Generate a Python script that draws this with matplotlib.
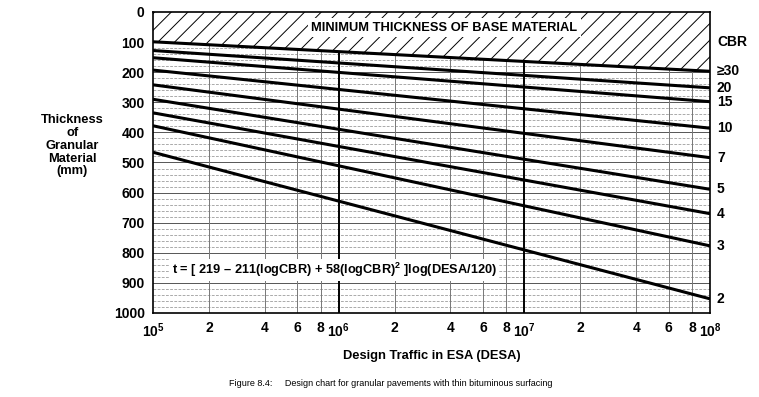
import numpy as np
import matplotlib
matplotlib.use('Agg')
import matplotlib.pyplot as plt

plt.rcParams['font.family'] = ['Liberation Sans', 'DejaVu Sans']
plt.rcParams['mathtext.fontset'] = 'custom'
plt.rcParams['mathtext.rm'] = 'Liberation Sans:bold'
plt.rcParams['mathtext.bf'] = 'Liberation Sans:bold'
plt.rcParams['mathtext.it'] = 'Liberation Sans:bold'
plt.rcParams['hatch.linewidth'] = 0.7

# Datos: espesor (mm) en DESA = 1e5 y 1e8
desa = [1e5, 1e8]
cbr_labels = ['≥30', '20', '15', '10', '7', '5', '4', '3', '2']
t_start = [99, 128, 152, 193, 242, 290, 335, 378, 466]
t_end = [197, 252, 298, 386, 484, 589, 670, 777, 953]

fig = plt.figure(figsize=(7.59, 3.97), dpi=100)
ax = fig.add_axes([0.2016, 0.2116, 0.7339, 0.7582])
ax.set_xscale('log')
ax.set_xlim(1e5, 1e8)
ax.set_ylim(1000, 0)

# grilla
for y in range(20, 1000, 20):
    if y % 100 == 0:
        ax.axhline(y, color='#555555', lw=0.7, zorder=1)
    else:
        ax.axhline(y, color='#888888', lw=0.5, ls=(0, (4, 2)), zorder=1)
for dec in [1e5, 1e6, 1e7]:
    for m in [2, 4, 6, 8]:
        ax.axvline(dec * m, color='#777777', lw=0.7, zorder=1)
ax.axvline(1e6, color='black', lw=1.4, zorder=2)
ax.axvline(1e7, color='black', lw=1.4, zorder=2)

# zona de espesor minimo
ax.fill_between(desa, [0, 0], [t_start[0], t_end[0]], facecolor='white',
                edgecolor='black', hatch='//', lw=0, zorder=3)

for i, lab in enumerate(cbr_labels):
    ax.plot(desa, [t_start[i], t_end[i]], color='black', lw=2.2, zorder=4,
            solid_capstyle='butt')
    ax.text(1.09e8, t_end[i], lab, fontsize=10, fontweight='bold',
            va='center', ha='left', clip_on=False)
ax.text(1.09e8, 100, 'CBR', fontsize=10, fontweight='bold', va='center',
        ha='left', clip_on=False)

ax.text(3.7e6, 52, 'MINIMUM THICKNESS OF BASE MATERIAL', fontsize=9.3,
        fontweight='bold', ha='center', va='center', zorder=5,
        bbox=dict(facecolor='white', edgecolor='none', pad=2.5))

ax.text(1.27e5, 857,
        r't = [ 219 – 211(logCBR) + 58(logCBR)$^{2}$ ]log(DESA/120)',
        fontsize=9.2, fontweight='bold', ha='left', va='center', zorder=5,
        bbox=dict(facecolor='white', edgecolor='none', pad=1.5))

# ejes
ax.set_yticks(range(0, 1001, 100))
ax.set_yticklabels([str(v) for v in range(0, 1001, 100)], fontsize=10,
                   fontweight='bold')
xt = []
xl = []
for e in [5, 6, 7]:
    xt.append(10.0 ** e)
    xl.append(r'$10^{%d}$' % e)
    for m in [2, 4, 6, 8]:
        xt.append(m * 10.0 ** e)
        xl.append(str(m))
xt.append(1e8)
xl.append(r'$10^{8}$')
ax.set_xticks(xt)
ax.set_xticklabels(xl, fontsize=10, fontweight='bold')
ax.minorticks_off()
ax.tick_params(length=0, pad=6)
for s in ax.spines.values():
    s.set_linewidth(1.2)
    s.set_zorder(6)

ax.set_xlabel('Design Traffic in ESA (DESA)', fontsize=9.3, fontweight='bold',
              labelpad=7)
ax.text(-0.145, 445, 'Thickness\nof\nGranular\nMaterial\n(mm)',
        transform=ax.get_yaxis_transform(), fontsize=9.3, fontweight='bold',
        ha='center', va='center', linespacing=1.08)

fig.text(0.302, 0.035,
         'Figure 8.4:     Design chart for granular pavements with thin bituminous surfacing',
         fontsize=6.5, ha='left', va='center')

fig.savefig('out.png', dpi=100)
